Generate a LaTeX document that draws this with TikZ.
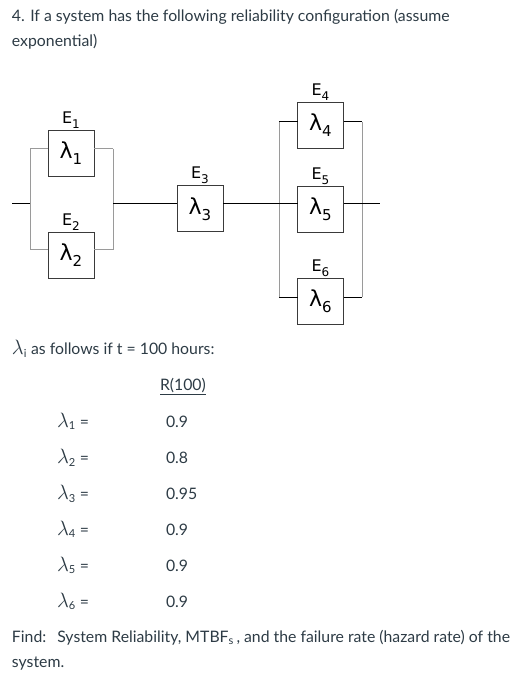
\documentclass[tikz,border=0pt]{standalone}
\usepackage{fontspec}
\setmainfont{Lato}
\newfontfamily\diagfont{DejaVu Sans}
\usepackage{xcolor}
\usepackage{tikz}
\usetikzlibrary{positioning,calc}
\definecolor{inkdark}{HTML}{2D3B45}
\definecolor{railgray}{HTML}{9A9A9A}
\definecolor{boxline}{HTML}{3A3A3A}
\newcommand{\lsub}[2]{#1\raisebox{-6pt}{\fontsize{15}{15}\selectfont #2}}
\newcommand{\esub}[2]{#1\raisebox{-5pt}{\fontsize{12}{12}\selectfont #2}}
\newcommand{\lamrow}[1]{{\fontsize{19.5}{20}\selectfont$\lambda$}\textsubscript{#1}}
\tikzset{
  every node/.style={inner sep=0pt, outer sep=0pt},
  txt/.style={font=\fontsize{15.8}{25}\selectfont, text=inkdark, anchor=base west, align=left},
  comp/.style={draw=boxline, line width=1pt, minimum width=46pt, minimum height=46pt,
    font=\diagfont\fontsize{22}{22}\selectfont},
  tag/.style={font=\diagfont\fontsize{16}{16}\selectfont, text=black},
  wire/.style={line width=1pt, draw=black},
  rail/.style={line width=1pt, draw=railgray},
}

\begin{document}
\begin{tikzpicture}[x=1pt, y=-1pt]
  \useasboundingbox (0,0) rectangle (529,692);

  % 1. ĐỀ BÀI (mốc base = dòng cuối)
  \node[txt] (title) at (12,47) {4. If a system has the following reliability configuration (assume\\exponential)};

  % 2. CÁC KHỐI PHẦN TỬ
  \node[comp] (e1) at (71,153.5) {\lsub{λ}{1}};
  \node[comp] (e2) at (71,255.5) {\lsub{λ}{2}};
  \node[comp] (e3) at (200,209) {\lsub{λ}{3}};
  \node[comp] (e4) at (320.5,125.5) {\lsub{λ}{4}};
  \node[comp] (e5) at (320.5,209.5) {\lsub{λ}{5}};
  \node[comp] (e6) at (320.5,301.5) {\lsub{λ}{6}};

  % Nhãn E_i đặt phía trên mỗi khối
  \node[tag, above=2pt of e1] (t1) {\esub{E}{1}};
  \node[tag, above=2pt of e2] (t2) {\esub{E}{2}};
  \node[tag, above=2pt of e3] (t3) {\esub{E}{3}};
  \node[tag, above=2pt of e4] (t4) {\esub{E}{4}};
  \node[tag, above=2pt of e5] (t5) {\esub{E}{5}};
  \node[tag, above=2pt of e6] (t6) {\esub{E}{6}};

  % ==========================================
  % ĐƯỜNG NỐI (SERIES / PARALLEL)
  % ==========================================
  \coordinate (in)  at (12,204);
  \coordinate (lm)  at (30,204);
  \coordinate (l1)  at (30,149);
  \coordinate (l2)  at (30,250);
  \coordinate (rm)  at (113,204);
  \coordinate (r1)  at (113,149);
  \coordinate (r2)  at (113,250);
  \coordinate (pm)  at (279,204);
  \coordinate (p1)  at (279,122);
  \coordinate (p3)  at (279,297);
  \coordinate (qm)  at (362,204);
  \coordinate (q1)  at (362,122);
  \coordinate (q3)  at (362,297);
  \coordinate (out) at (380,204);

  % Khối song song E1 || E2
  \draw[wire] (in) -- (lm);
  \draw[rail] (l1) -- (l2);
  \draw[rail] (r1) -- (r2);
  \draw[rail] (l1) -- (l1 -| e1.west);
  \draw[rail] (l2) -- (l2 -| e2.west);
  \draw[rail] (r1 -| e1.east) -- (r1);
  \draw[rail] (r2 -| e2.east) -- (r2);

  % Nối tiếp E3
  \draw[wire] (rm) -- (rm -| e3.west);
  \draw[wire] (pm -| e3.east) -- (pm);

  % Khối song song E4 || E5 || E6
  \draw[rail] (p1) -- (p3);
  \draw[rail] (q1) -- (q3);
  \draw[wire] (p1) -- (p1 -| e4.west);
  \draw[wire] (pm) -- (pm -| e5.west);
  \draw[wire] (p3) -- (p3 -| e6.west);
  \draw[wire] (q1 -| e4.east) -- (q1);
  \draw[wire] (qm -| e5.east) -- (qm);
  \draw[wire] (q3 -| e6.east) -- (q3);
  \draw[wire] (qm) -- (out);

  % ==========================================
  % BẢNG GIÁ TRỊ R(100)
  % ==========================================
  \node[txt] (given) at (12,354) {\lamrow{i} as follows if t = 100 hours:};
  \node[txt] (head) at (160,390) {\underline{R(100)}};

  \node[txt] (k1) at (57,427) {\lamrow{1} =};
  \node[txt] (k2) at (57,463) {\lamrow{2} =};
  \node[txt] (k3) at (57,499) {\lamrow{3} =};
  \node[txt] (k4) at (57,535) {\lamrow{4} =};
  \node[txt] (k5) at (57,571) {\lamrow{5} =};
  \node[txt] (k6) at (57,607) {\lamrow{6} =};

  \node[txt] (v1) at (166,427) {0.9};
  \node[txt] (v2) at (166,463) {0.8};
  \node[txt] (v3) at (166,499) {0.95};
  \node[txt] (v4) at (166,535) {0.9};
  \node[txt] (v5) at (166,571) {0.9};
  \node[txt] (v6) at (166,607) {0.9};

  % 3. YÊU CẦU
  \node[txt] (find) at (12,667) {Find:\hspace{11pt}System Reliability, MTBF\textsubscript{s}\,, and the failure rate (hazard rate) of the\\system.};

\end{tikzpicture}
\end{document}
